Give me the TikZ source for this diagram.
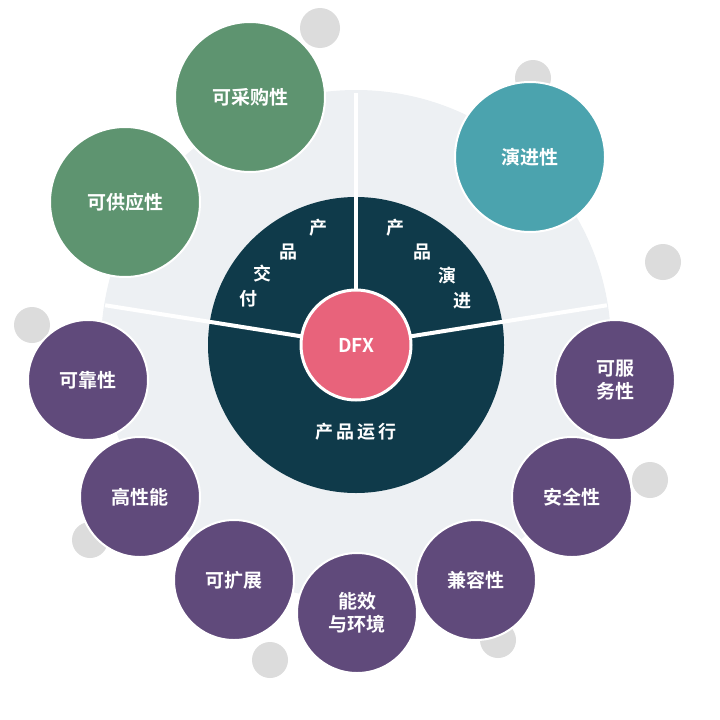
\documentclass[tikz,border=0pt]{standalone}
\usepackage{fontspec}
\setmainfont{Noto Sans CJK SC}[BoldFont={Noto Sans CJK SC Bold}]
\definecolor{gr}{HTML}{5E9470}
\definecolor{te}{HTML}{4BA3AE}
\definecolor{pu}{HTML}{604A7B}
\definecolor{dk}{HTML}{0F3A4A}
\definecolor{pk}{HTML}{E8637B}
\definecolor{lg}{HTML}{EDF0F3}
\definecolor{dot}{HTML}{DCDCDC}
\begin{document}
\begin{tikzpicture}[x=1pt,y=-1pt,
  big/.style={circle,draw=white,line width=2pt,minimum size=150pt,inner sep=0pt,text=white,font=\bfseries\fontsize{19}{23}\selectfont,align=center},
  mid/.style={circle,draw=white,line width=2pt,minimum size=120pt,inner sep=0pt,text=white,font=\bfseries\fontsize{19}{23}\selectfont,align=center},
  dotc/.style={circle,fill=dot,inner sep=0pt,minimum size=36pt},
  lab/.style={text=white,font=\bfseries\fontsize{18}{22}\selectfont}]
\useasboundingbox (0,0) rectangle (720,720);
\node[dotc,minimum size=40pt] (d1) at (320,28) {};
\node[dotc] (d2) at (533,78) {};
\node[dotc] (d3) at (663,262) {};
\node[dotc] (d4) at (32,325) {};
\node[dotc] (d5) at (650,480) {};
\node[dotc] (d6) at (90,540) {};
\node[dotc] (d7) at (498,640) {};
\node[dotc] (d8) at (270,660) {};
\fill[lg] (356,345) circle (255);
\fill[dk] (356,345) circle (148);
\coordinate (c) at (356,345);
\draw[white,line width=4pt] (c) -- ++(0,-252);
\draw[white,line width=4pt] (c) -- ++(171:-254);
\draw[white,line width=4pt] (c) -- ++(9:-254);
\node[circle,fill=pk,draw=white,line width=3pt,minimum size=110pt,text=white,font=\bfseries\fontsize{19}{23}\selectfont] (dfx) at (c) {DFX};
\node[lab] at (318,228) {产};
\node[lab] at (288,252) {品};
\node[lab] at (262,274) {交};
\node[lab] at (248,299) {付};
\node[lab] at (395,228) {产};
\node[lab] at (422,252) {品};
\node[lab] at (447,276) {演};
\node[lab] at (462,301) {进};
\node[lab] (run) at (356,432) {产\,品\,运\,行};
\node[big,fill=gr] (a) at (250,97) {可采购性};
\node[big,fill=gr] (b) at (125,202) {可供应性};
\node[big,fill=te] (e) at (530,157) {演进性};
\node[mid,fill=pu] (f) at (615,380) {可服\\务性};
\node[mid,fill=pu] (g) at (572,497) {安全性};
\node[mid,fill=pu] (h) at (476,580) {兼容性};
\node[mid,fill=pu] (i) at (357,613) {能效\\与环境};
\node[mid,fill=pu] (j) at (234,580) {可扩展};
\node[mid,fill=pu] (k) at (140,497) {高性能};
\node[mid,fill=pu] (l) at (88,380) {可靠性};
\end{tikzpicture}
\end{document}
